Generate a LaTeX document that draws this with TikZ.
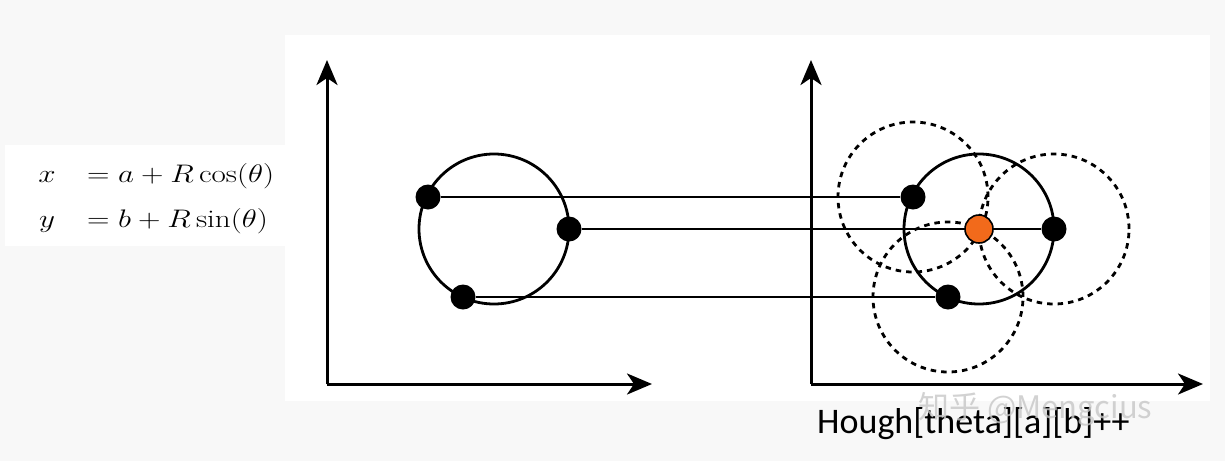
\documentclass[tikz,border=0pt]{standalone}
\usepackage{fontspec}
\usepackage{amsmath}
\usetikzlibrary{arrows.meta}
\newfontfamily\cjkfont{Noto Sans CJK SC}
\newfontfamily\calfont{Carlito}
\definecolor{pagebg}{HTML}{F8F8F8}
\definecolor{houghorange}{HTML}{F26A1B}
\tikzset{
  axis/.style={line width=3pt,-{Stealth[length=25pt,width=21pt,inset=7pt]}},
  dotnode/.style={circle,fill=black,inner sep=0pt,minimum size=25pt},
  centrenode/.style={circle,fill=houghorange,draw=black,line width=1.6pt,inner sep=0pt,minimum size=28pt},
  solidcirc/.style={line width=2.8pt},
  dashcirc/.style={line width=2.8pt,dash pattern=on 5.5pt off 5pt},
  link/.style={line width=2.8pt},
  eq/.style={inner sep=0pt,anchor=base west,font=\fontsize{24.88}{30}\selectfont},
}
\begin{document}
\begin{tikzpicture}[x=1pt,y=-1pt]
\useasboundingbox (0,0) rectangle (1225,461);
\fill[pagebg] (0,0) rectangle (1225,461);
\fill[white] (285,35) rectangle (1210,401);
\fill[white] (5,145) rectangle (285,246);
% equations
\node[eq,anchor=base] (ex) at (47,182) {\scalebox{1.25}[1.02]{$x$}};
\node[eq] (er1) at (87,182) {\scalebox{1.25}[1.02]{$= a + R\cos(\theta)$}};
\node[eq,anchor=base] (ey) at (47,227) {\scalebox{1.25}[1.02]{$y$}};
\node[eq] (er2) at (87,227) {\scalebox{1.25}[1.02]{$= b + R\sin(\theta)$}};
% axes
\coordinate (lo) at (327,384);
\coordinate (ly) at (327,60);
\coordinate (lx) at (652,384);
\coordinate (ro) at (811,384);
\coordinate (ry) at (811,60);
\coordinate (rx) at (1203,384);
\draw[axis] (lo) -- (ly);
\draw[axis] (lo) -- (lx);
\draw[axis] (ro) -- (ry);
\draw[axis] (ro) -- (rx);
% circles
\coordinate (lc) at (494,229);
\coordinate (rc) at (979,229);
\draw[solidcirc] (lc) circle[radius=75pt];
\draw[solidcirc] (rc) circle[radius=75pt];
% points
\coordinate (p1c) at (428,197);
\coordinate (p2c) at (569,229);
\coordinate (p3c) at (463,297);
\coordinate (q1c) at (913,197);
\coordinate (q2c) at (1054,229);
\coordinate (q3c) at (948,297);
\draw[dashcirc] (q1c) circle[radius=75pt];
\draw[dashcirc] (q2c) circle[radius=75pt];
\draw[dashcirc] (q3c) circle[radius=75pt];
\node[dotnode] (p1) at (p1c) {};
\node[dotnode] (p2) at (p2c) {};
\node[dotnode] (p3) at (p3c) {};
\node[dotnode] (q1) at (q1c) {};
\node[dotnode] (q2) at (q2c) {};
\node[dotnode] (q3) at (q3c) {};
\draw[link] (p1) -- (q1);
\draw[link] (p2) -- (q2);
\draw[link] (p3) -- (q3);
\node[centrenode] (ctr) at (rc) {};
% caption
\node[inner sep=0pt,anchor=base west,font=\calfont\fontsize{36}{40}\selectfont] (hough) at (817,433) {Hough[theta][a][b]++};
% watermark
\node[inner sep=0pt,anchor=base west,text=black!22,opacity=0.8,font=\cjkfont\fontsize{31}{36}\selectfont] (wm) at (918,418) {知乎 @Mengcius};
\end{tikzpicture}
\end{document}
